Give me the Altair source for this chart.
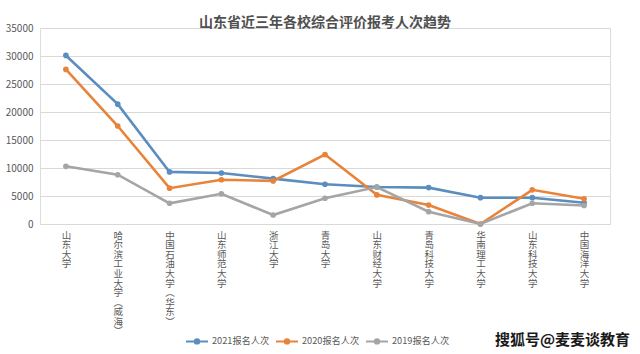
import altair as alt
import pandas as pd

schools = ["山东大学", "哈尔滨工业大学（威海）", "中国石油大学（华东）", "山东师范大学", "浙江大学",
           "青岛大学", "山东财经大学", "青岛科技大学", "华南理工大学", "山东科技大学", "中国海洋大学"]
series = ["2021报名人次", "2020报名人次", "2019报名人次"]
v2021 = [30100, 21400, 9300, 9100, 8100, 7100, 6600, 6500, 4700, 4700, 3800]
v2020 = [27600, 17500, 6400, 7900, 7700, 12400, 5200, 3400, 0, 6100, 4500]
v2019 = [10300, 8800, 3700, 5400, 1600, 4600, 6600, 2200, 0, 3700, 3300]
colors = ["#5B8DBE", "#E8833A", "#A5A5A5"]
y_ticks = [0, 5000, 10000, 15000, 20000, 25000, 30000, 35000]

rows = []
for s, vals in zip(series, [v2021, v2020, v2019]):
    for i, (sc, v) in enumerate(zip(schools, vals)):
        rows.append({"学校": sc, "系列": s, "人次": v, "idx": i})
df = pd.DataFrame(rows)

FONT = "Noto Sans CJK SC"

label_expr = "split(replace(replace(datum.label, '（', '︵'), '）', '︶'), '')"

x = alt.X("学校:N", sort=schools, title=None,
          scale=alt.Scale(paddingInner=0, paddingOuter=0.5),
          axis=alt.Axis(labelAngle=0, labelExpr=label_expr, labelBaseline="top",
                        labelLineHeight=9.6, labelFontSize=9.5, labelColor="#595959",
                        labelFont=FONT, labelPadding=6, ticks=False, domain=False,
                        grid=False, labelOverlap=False))
y = alt.Y("人次:Q", title=None, scale=alt.Scale(domain=[0, 35000], nice=False),
          axis=alt.Axis(values=y_ticks, format="d", labelFontSize=10, labelColor="#595959",
                        labelFont=FONT, labelPadding=7, ticks=False, domain=False,
                        gridColor="#D9D9D9", gridWidth=1))

legend_symbol = "M-1,0L1,0M-0.2,0a0.2,0.2 0 1,0 0.4,0a0.2,0.2 0 1,0 -0.4,0"

color = alt.Color("系列:N", sort=series,
                  scale=alt.Scale(domain=series, range=colors),
                  legend=alt.Legend(title=None, orient="none", direction="horizontal",
                                    legendX=145, legendY=301,
                                    symbolType=legend_symbol, symbolSize=484,
                                    symbolStrokeWidth=2, labelFontSize=9.2,
                                    labelColor="#595959", labelFont=FONT,
                                    labelOffset=3, columnPadding=2))

lines = alt.Chart(df).mark_line(strokeWidth=2.6).encode(x=x, y=y, color=color,
                                                         order=alt.Order("idx:Q"))
points = alt.Chart(df).mark_circle(size=32, opacity=1).encode(
    x=x, y=y, color=alt.Color("系列:N", sort=series,
                              scale=alt.Scale(domain=series, range=colors), legend=None))

watermark = alt.Chart(pd.DataFrame({"t": ["搜狐号@麦麦谈教育"]})).mark_text(
    align="right", baseline="middle", fontSize=15, font=FONT, fontWeight="bold",
    color="#1a1a1a").encode(text="t:N", x=alt.value(590), y=alt.value(312))

chart = alt.layer(lines, points, watermark).properties(
    width=570, height=196,
    title=alt.TitleParams("山东省近三年各校综合评价报考人次趋势", fontSize=14, fontWeight="bold",
                          color="#505050", font=FONT, anchor="middle", offset=-7),
    autosize=alt.AutoSizeParams(type="none"),
    padding={"left": 40, "top": 28, "right": 30, "bottom": 130},
).configure_view(stroke=None).configure(background="white")

chart.save("out.html", embed_options={"renderer": "svg", "actions": False})
